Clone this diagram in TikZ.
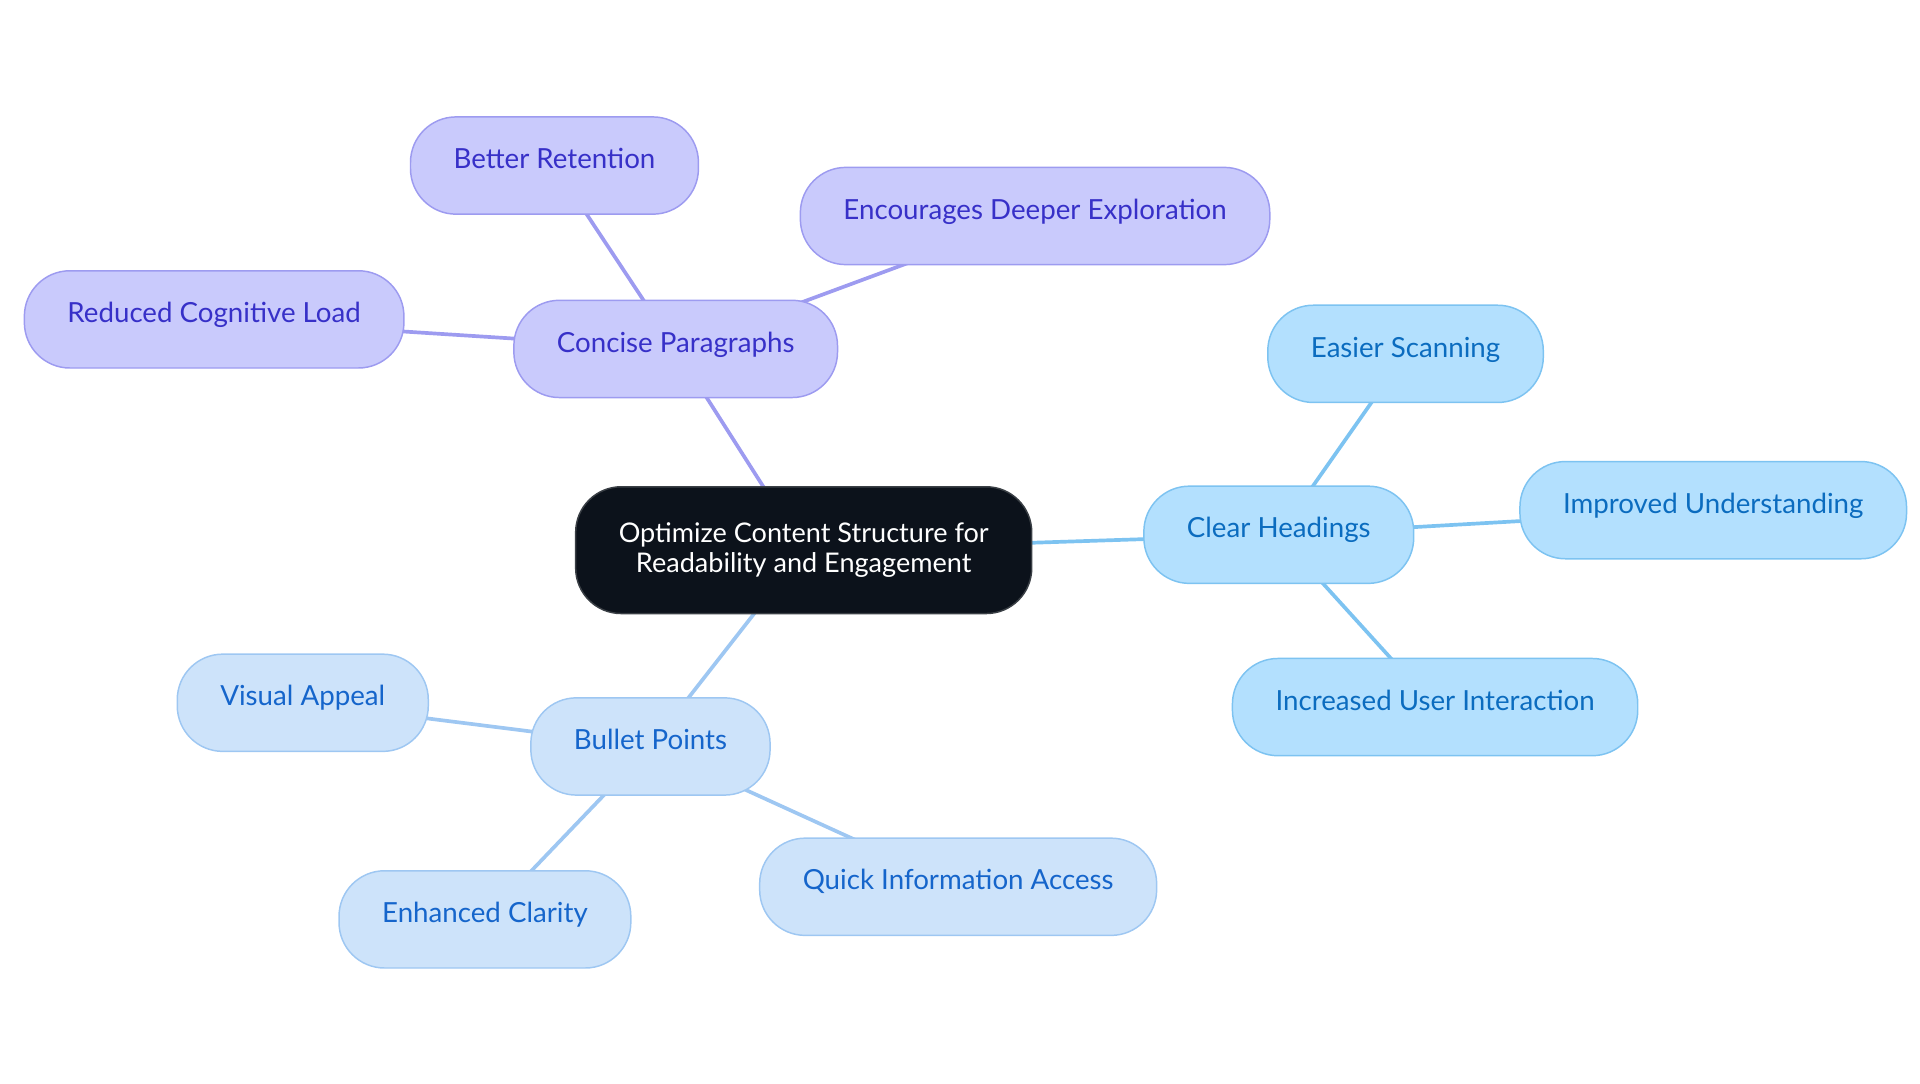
\documentclass[tikz,border=0pt]{standalone}
\usepackage{fontspec}
\setmainfont{Lato}
\usetikzlibrary{backgrounds}

\definecolor{rootfill}{HTML}{0C121B}
\definecolor{rootline}{HTML}{3A3F45}
\definecolor{parafill}{HTML}{C9CAFC}
\definecolor{paraline}{HTML}{9D9BF0}
\definecolor{paratext}{HTML}{3730C8}
\definecolor{headfill}{HTML}{B3E0FE}
\definecolor{headline}{HTML}{7DC3F1}
\definecolor{headtext}{HTML}{0B6CBF}
\definecolor{bulletfill}{HTML}{CDE3FA}
\definecolor{bulletline}{HTML}{9EC7F2}
\definecolor{bullettext}{HTML}{1565CB}

\begin{document}
\begin{tikzpicture}[
  x=1pt, y=-1pt,
  pillbase/.style={rectangle, rounded corners=37pt, inner xsep=35pt, line width=1.2pt},
  pill/.style={pillbase, minimum height=79pt,
    font=\fontsize{22.5}{26}\selectfont, text height=0.72em, text depth=0.2em},
  rootnode/.style={pillbase, fill=rootfill, draw=rootline, text=white, minimum height=103pt,
    align=center, font=\fontsize{22}{24}\selectfont},
  paranode/.style={pill, fill=parafill, draw=paraline, text=paratext},
  headnode/.style={pill, fill=headfill, draw=headline, text=headtext},
  bulletnode/.style={pill, fill=bulletfill, draw=bulletline, text=bullettext},
  link/.style={line width=3pt}
]
\useasboundingbox (0,0) rectangle (1560,880);

\node[rootnode] (root) at (653,447) {Optimize Content Structure for\\Readability and Engagement};

% concise paragraphs branch
\node[paranode] (para) at (549,283.5) {Concise Paragraphs};
\node[paranode] (retention) at (450.5,134.5) {Better Retention};
\node[paranode] (explore) at (841,175.5) {Encourages Deeper Exploration};
\node[paranode] (load) at (174,259.5) {Reduced Cognitive Load};

% clear headings branch
\node[headnode] (head) at (1039,434.5) {Clear Headings};
\node[headnode] (scan) at (1142,287.5) {Easier Scanning};
\node[headnode] (understand) at (1392,414.5) {Improved Understanding};
\node[headnode] (interact) at (1166,574.5) {Increased User Interaction};

% bullet points branch
\node[bulletnode] (bullet) at (528.5,606.5) {Bullet Points};
\node[bulletnode] (appeal) at (246,571) {Visual Appeal};
\node[bulletnode] (clarity) at (394,747) {Enhanced Clarity};
\node[bulletnode] (quick) at (778.5,720.5) {Quick Information Access};

\begin{scope}[on background layer]
\draw[link, paraline] (root.center) -- (para.center);
\draw[link, paraline] (para.center) -- (retention.center);
\draw[link, paraline] (para.center) -- (explore.center);
\draw[link, paraline] (para.center) -- (load.center);
\draw[link, headline] (root.center) -- (head.center);
\draw[link, headline] (head.center) -- (scan.center);
\draw[link, headline] (head.center) -- (understand.center);
\draw[link, headline] (head.center) -- (interact.center);
\draw[link, bulletline] (root.center) -- (bullet.center);
\draw[link, bulletline] (bullet.center) -- (appeal.center);
\draw[link, bulletline] (bullet.center) -- (clarity.center);
\draw[link, bulletline] (bullet.center) -- (quick.center);
\end{scope}
\end{tikzpicture}
\end{document}
